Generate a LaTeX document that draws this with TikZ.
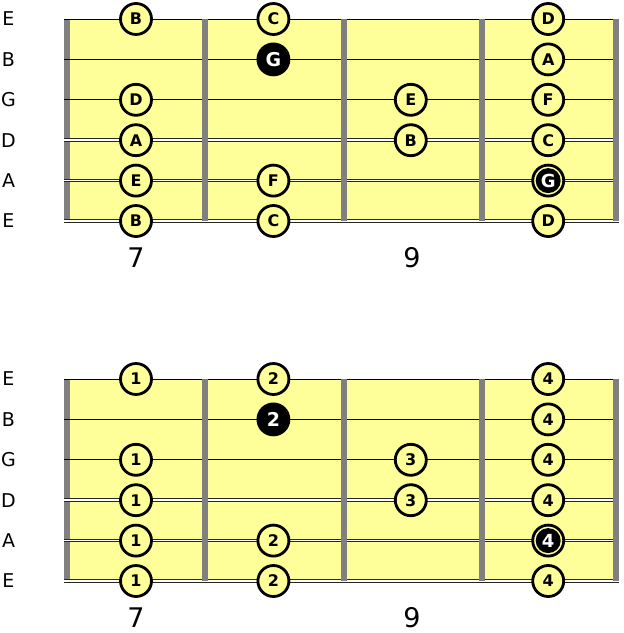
\documentclass[tikz,border=0pt]{standalone}
\usepackage{fontspec}
\setmainfont{DejaVu Sans}
\definecolor{boardyellow}{RGB}{255,255,153}
\definecolor{fretgrey}{RGB}{128,128,128}
\tikzset{
  note/.style={circle,draw=black,line width=2.8pt,fill=boardyellow,minimum size=31pt,inner sep=0pt,font=\bfseries\fontsize{16}{16}\selectfont},
  rootnote/.style={note,fill=black,text=white,font=\bfseries\fontsize{19}{19}\selectfont},
  ringnote/.style={note,text=white,font=\bfseries\fontsize{18}{18}\selectfont,path picture={\fill[black] (path picture bounding box.center) circle (12.5pt);}},
  plainstring/.style={line width=1pt},
  woundstring/.style={draw=black!85,line width=1pt,double=white,double distance=1.6pt},
  stringname/.style={inner sep=0pt,font=\fontsize{19}{19}\selectfont},
  fretnum/.style={inner sep=0pt,font=\fontsize{27}{27}\selectfont}
}

\begin{document}
\begin{tikzpicture}[x=1pt,y=-1pt]
            \useasboundingbox (0,0) rectangle (624,633);
            % two fretboards, notes above and fingers below
            \foreach \yo/\b in {0/top,360/bot}{
                \fill[boardyellow] (64,19+\yo) rectangle (619,221+\yo);
                \fill[fretgrey] (64,19+\yo) rectangle (70,221+\yo);
                \foreach \s/\nm/\kind in {1/E/plainstring,2/B/plainstring,3/G/plainstring,4/D/woundstring,5/A/woundstring,6/E/woundstring}{
                    \pgfmathsetmacro{\y}{19+40.4*(\s-1)+\yo}
                    \coordinate (\b-s\s-l) at (64,\y);
                    \coordinate (\b-s\s-r) at (619,\y);
                    \draw[\kind] (\b-s\s-l) -- (\b-s\s-r);
                    \node[stringname] (\b-name\s) at (8.5,\y) {\nm};
                }
                \foreach \x in {204.5,344,482,616}{
                    \fill[fretgrey] (\x-3,19+\yo) rectangle (\x+3,221+\yo);
                }
                \node[fretnum] (\b-fret7) at (136,258+\yo) {7};
                \node[fretnum] (\b-fret9) at (412,258+\yo) {9};
            }
            % note names
            \foreach \s/\f/\t/\st in {1/1/B/note,1/2/C/note,1/4/D/note,2/2/G/rootnote,2/4/A/note,3/1/D/note,3/3/E/note,3/4/F/note,4/1/A/note,4/3/B/note,4/4/C/note,5/1/E/note,5/2/F/note,5/4/G/ringnote,6/1/B/note,6/2/C/note,6/4/D/note}{
                \node[\st] (top-n\s-\f) at (136+137.4*\f-137.4,19+40.4*\s-40.4) {\t};
            }
            % fingering
            \foreach \s/\f/\t/\st in {1/1/1/note,1/2/2/note,1/4/4/note,2/2/2/rootnote,2/4/4/note,3/1/1/note,3/3/3/note,3/4/4/note,4/1/1/note,4/3/3/note,4/4/4/note,5/1/1/note,5/2/2/note,5/4/4/ringnote,6/1/1/note,6/2/2/note,6/4/4/note}{
                \node[\st] (bot-n\s-\f) at (136+137.4*\f-137.4,379+40.4*\s-40.4) {\t};
            }
\end{tikzpicture}
\end{document}
